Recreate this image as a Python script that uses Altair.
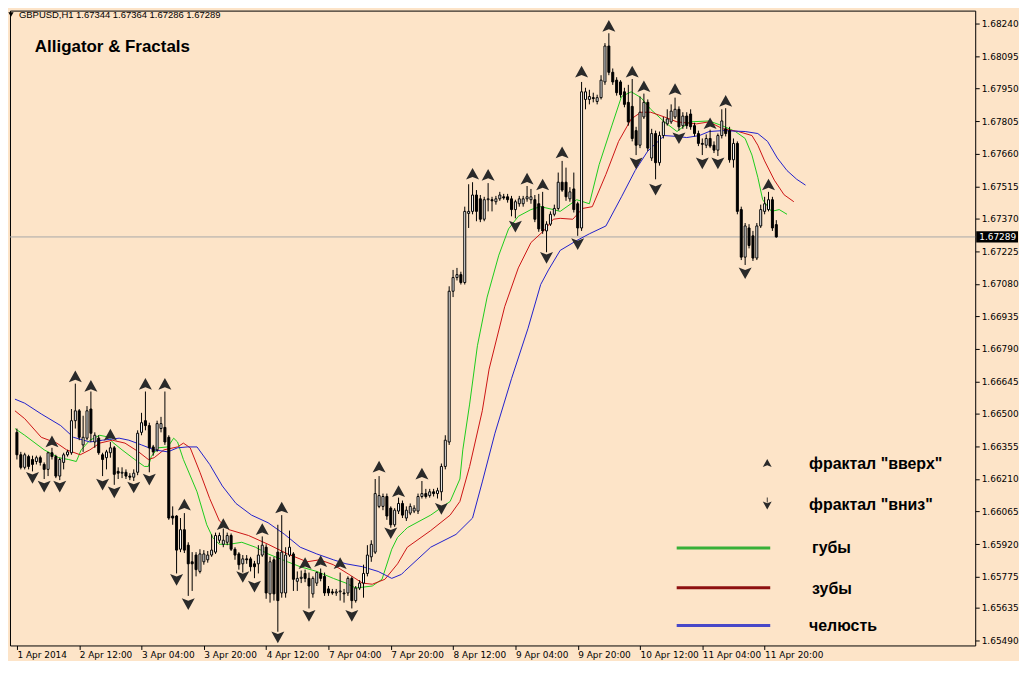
import json
import altair as alt
import pandas as pd

# ---------------- data (GBPUSD H1, bar 0 = 1 Apr 2014 20:00) ----------------
opens = [1.66418, 1.66318, 1.66262, 1.66310, 1.66297, 1.66288, 1.66305, 1.66275, 1.66253, 1.66327,
         1.66310, 1.66223, 1.66284, 1.66318, 1.66327, 1.66470, 1.66514, 1.66362, 1.66392, 1.66522,
         1.66375, 1.66392, 1.66318, 1.66305, 1.66327, 1.66349, 1.66244, 1.66236, 1.66240, 1.66223,
         1.66218, 1.66240, 1.66418, 1.66470, 1.66448, 1.66353, 1.66340, 1.66435, 1.66440, 1.66396,
         1.66045, 1.66045, 1.65897, 1.65984, 1.65915, 1.65841, 1.65871, 1.65798, 1.65841, 1.65850,
         1.65871, 1.65884, 1.65937, 1.65919, 1.65928, 1.65958, 1.65897, 1.65876, 1.65832, 1.65854,
         1.65854, 1.65832, 1.65832, 1.65871, 1.65906, 1.65698, 1.65850, 1.65884, 1.65702, 1.65702,
         1.65871, 1.65876, 1.65754, 1.65767, 1.65789, 1.65767, 1.65698, 1.65746, 1.65789, 1.65776,
         1.65720, 1.65707, 1.65702, 1.65707, 1.65702, 1.65702, 1.65767, 1.65668, 1.65724, 1.65746,
         1.65789, 1.65863, 1.65884, 1.66088, 1.66088, 1.66132, 1.66080, 1.66006, 1.66067, 1.66101,
         1.66036, 1.66058, 1.66067, 1.66067, 1.66132, 1.66145, 1.66136, 1.66153, 1.66145, 1.66153,
         1.66266, 1.66375, 1.67047, 1.67108, 1.67121, 1.67086, 1.67394, 1.67403, 1.67476, 1.67459,
         1.67368, 1.67455, 1.67455, 1.67446, 1.67459, 1.67468, 1.67468, 1.67459, 1.67411, 1.67437,
         1.67437, 1.67459, 1.67455, 1.67455, 1.67437, 1.67424, 1.67316, 1.67346, 1.67390, 1.67416,
         1.67533, 1.67533, 1.67459, 1.67503, 1.67437, 1.67329, 1.67902, 1.67902, 1.67910, 1.67893,
         1.67910, 1.67980, 1.68140, 1.68023, 1.67988, 1.67980, 1.67936, 1.67889, 1.67871, 1.67763,
         1.67698, 1.67824, 1.67889, 1.67641, 1.67750, 1.67620, 1.67741, 1.67793, 1.67802, 1.67824,
         1.67858, 1.67785, 1.67828, 1.67837, 1.67785, 1.67750, 1.67706, 1.67698, 1.67728, 1.67698,
         1.67676, 1.67741, 1.67771, 1.67763, 1.67633, 1.67706, 1.67411, 1.67199, 1.67329, 1.67294,
         1.67195, 1.67338, 1.67403, 1.67411, 1.67455, 1.67344]
highs = [1.66435, 1.66331, 1.66327, 1.66318, 1.66314, 1.66314, 1.66314, 1.66284, 1.66331, 1.66349,
         1.66318, 1.66305, 1.66327, 1.66340, 1.66522, 1.66635, 1.66522, 1.66492, 1.66535, 1.66600,
         1.66418, 1.66405, 1.66327, 1.66340, 1.66375, 1.66357, 1.66262, 1.66262, 1.66253, 1.66236,
         1.66253, 1.66427, 1.66505, 1.66600, 1.66461, 1.66362, 1.66470, 1.66487, 1.66600, 1.66405,
         1.66088, 1.66049, 1.66036, 1.66058, 1.65928, 1.65884, 1.65884, 1.65897, 1.65893, 1.65889,
         1.65963, 1.65971, 1.65971, 1.65989, 1.65971, 1.65967, 1.65906, 1.65884, 1.65871, 1.65871,
         1.65863, 1.65845, 1.65915, 1.65954, 1.65919, 1.65863, 1.65863, 1.66006, 1.66049, 1.65906,
         1.65980, 1.65884, 1.65798, 1.65802, 1.65806, 1.65793, 1.65776, 1.65798, 1.65811, 1.65793,
         1.65733, 1.65720, 1.65720, 1.65793, 1.65720, 1.65776, 1.65776, 1.65733, 1.65759, 1.65828,
         1.65915, 1.65937, 1.66210, 1.66223, 1.66145, 1.66145, 1.66088, 1.66080, 1.66127, 1.66114,
         1.66088, 1.66101, 1.66093, 1.66145, 1.66201, 1.66166, 1.66166, 1.66166, 1.66171, 1.66279,
         1.66405, 1.67069, 1.67142, 1.67151, 1.67134, 1.67424, 1.67524, 1.67533, 1.67498, 1.67476,
         1.67468, 1.67529, 1.67468, 1.67472, 1.67490, 1.67481, 1.67481, 1.67472, 1.67455, 1.67472,
         1.67472, 1.67516, 1.67503, 1.67476, 1.67481, 1.67490, 1.67359, 1.67403, 1.67433, 1.67576,
         1.67628, 1.67598, 1.67511, 1.67576, 1.67446, 1.67980, 1.67954, 1.67945, 1.67932, 1.67923,
         1.68010, 1.68153, 1.68197, 1.68040, 1.68001, 1.67988, 1.67954, 1.67967, 1.67993, 1.67780,
         1.67915, 1.67928, 1.67902, 1.67771, 1.67763, 1.67759, 1.67824, 1.67858, 1.67880, 1.67910,
         1.67871, 1.67845, 1.67845, 1.67858, 1.67798, 1.67763, 1.67728, 1.67746, 1.67767, 1.67715,
         1.67750, 1.67858, 1.67863, 1.67780, 1.67728, 1.67715, 1.67424, 1.67351, 1.67346, 1.67316,
         1.67351, 1.67433, 1.67468, 1.67490, 1.67468, 1.67364]
lows = [1.66297, 1.66253, 1.66253, 1.66253, 1.66244, 1.66275, 1.66270, 1.66210, 1.66223, 1.66297,
        1.66214, 1.66205, 1.66253, 1.66310, 1.66318, 1.66435, 1.66383, 1.66331, 1.66383, 1.66375,
        1.66349, 1.66318, 1.66223, 1.66253, 1.66305, 1.66184, 1.66210, 1.66214, 1.66210, 1.66205,
        1.66201, 1.66227, 1.66405, 1.66427, 1.66240, 1.66314, 1.66331, 1.66418, 1.66362, 1.66028,
        1.66006, 1.65789, 1.65884, 1.65880, 1.65689, 1.65711, 1.65776, 1.65789, 1.65828, 1.65837,
        1.65863, 1.65876, 1.65924, 1.65906, 1.65915, 1.65889, 1.65850, 1.65806, 1.65793, 1.65832,
        1.65798, 1.65768, 1.65789, 1.65863, 1.65676, 1.65659, 1.65668, 1.65529, 1.65681, 1.65681,
        1.65863, 1.65711, 1.65711, 1.65746, 1.65750, 1.65633, 1.65681, 1.65733, 1.65754, 1.65689,
        1.65689, 1.65694, 1.65689, 1.65668, 1.65659, 1.65689, 1.65633, 1.65659, 1.65715, 1.65681,
        1.65776, 1.65841, 1.65876, 1.66080, 1.66071, 1.66028, 1.65993, 1.65997, 1.66054, 1.66036,
        1.66023, 1.66049, 1.66058, 1.66054, 1.66123, 1.66123, 1.66127, 1.66132, 1.66123, 1.66114,
        1.66253, 1.66362, 1.67021, 1.67095, 1.67077, 1.67077, 1.67329, 1.67390, 1.67359, 1.67355,
        1.67359, 1.67403, 1.67403, 1.67433, 1.67450, 1.67455, 1.67442, 1.67381, 1.67372, 1.67424,
        1.67424, 1.67446, 1.67437, 1.67355, 1.67312, 1.67303, 1.67221, 1.67338, 1.67381, 1.67407,
        1.67490, 1.67450, 1.67446, 1.67398, 1.67294, 1.67316, 1.67858, 1.67880, 1.67889, 1.67880,
        1.67902, 1.67967, 1.68010, 1.67967, 1.67919, 1.67910, 1.67867, 1.67785, 1.67715, 1.67654,
        1.67685, 1.67815, 1.67672, 1.67628, 1.67546, 1.67607, 1.67728, 1.67785, 1.67793, 1.67815,
        1.67763, 1.67771, 1.67771, 1.67767, 1.67737, 1.67694, 1.67654, 1.67685, 1.67685, 1.67663,
        1.67650, 1.67728, 1.67737, 1.67620, 1.67598, 1.67390, 1.67186, 1.67164, 1.67238, 1.67182,
        1.67186, 1.67329, 1.67390, 1.67403, 1.67316, 1.67286]
closes = [1.66318, 1.66262, 1.66318, 1.66266, 1.66275, 1.66305, 1.66284, 1.66253, 1.66327, 1.66310,
          1.66223, 1.66297, 1.66318, 1.66331, 1.66470, 1.66514, 1.66396, 1.66396, 1.66514, 1.66414,
          1.66405, 1.66327, 1.66297, 1.66331, 1.66349, 1.66231, 1.66236, 1.66240, 1.66223, 1.66218,
          1.66236, 1.66414, 1.66461, 1.66448, 1.66349, 1.66331, 1.66457, 1.66457, 1.66375, 1.66036,
          1.66036, 1.65893, 1.65984, 1.65893, 1.65832, 1.65832, 1.65806, 1.65876, 1.65876, 1.65871,
          1.65893, 1.65958, 1.65958, 1.65937, 1.65958, 1.65897, 1.65871, 1.65828, 1.65854, 1.65850,
          1.65819, 1.65819, 1.65871, 1.65915, 1.65702, 1.65841, 1.65698, 1.65668, 1.65884, 1.65871,
          1.65906, 1.65763, 1.65767, 1.65772, 1.65767, 1.65733, 1.65767, 1.65793, 1.65767, 1.65702,
          1.65702, 1.65702, 1.65707, 1.65711, 1.65698, 1.65767, 1.65668, 1.65724, 1.65746, 1.65789,
          1.65871, 1.65919, 1.66145, 1.66136, 1.66132, 1.66045, 1.66006, 1.66071, 1.66101, 1.66049,
          1.66071, 1.66088, 1.66080, 1.66132, 1.66145, 1.66132, 1.66153, 1.66145, 1.66158, 1.66266,
          1.66383, 1.67047, 1.67108, 1.67121, 1.67086, 1.67403, 1.67403, 1.67476, 1.67403, 1.67368,
          1.67455, 1.67459, 1.67450, 1.67459, 1.67476, 1.67463, 1.67455, 1.67411, 1.67446, 1.67459,
          1.67459, 1.67468, 1.67468, 1.67368, 1.67325, 1.67316, 1.67346, 1.67390, 1.67416, 1.67533,
          1.67498, 1.67468, 1.67490, 1.67411, 1.67329, 1.67936, 1.67936, 1.67915, 1.67906, 1.67910,
          1.67988, 1.68140, 1.68023, 1.67980, 1.67932, 1.67923, 1.67880, 1.67802, 1.67728, 1.67698,
          1.67845, 1.67889, 1.67685, 1.67750, 1.67620, 1.67741, 1.67802, 1.67815, 1.67850, 1.67858,
          1.67780, 1.67828, 1.67785, 1.67780, 1.67750, 1.67706, 1.67702, 1.67728, 1.67694, 1.67676,
          1.67741, 1.67806, 1.67750, 1.67633, 1.67706, 1.67403, 1.67199, 1.67338, 1.67251, 1.67195,
          1.67338, 1.67411, 1.67437, 1.67455, 1.67329, 1.67289]

# fractals (bar index, arrow price)
up_bars = [9, 15, 19, 24, 33, 38, 43, 53, 63, 68, 74, 78, 83, 93, 98, 104, 117, 121, 131, 135,
           140, 145, 152, 158, 161, 169, 178, 182, 193]
up_prices = [1.66375, 1.66665, 1.66622, 1.66405, 1.66631, 1.66631, 1.66093, 1.66006, 1.65984, 1.66080,
             1.65832, 1.65841, 1.65832, 1.66262, 1.66153, 1.66231, 1.67568, 1.67563, 1.67546, 1.67520,
             1.67663, 1.68023, 1.68227, 1.68023, 1.67958, 1.67945, 1.67793, 1.67893, 1.67520]
down_bars = [4, 7, 11, 22, 25, 30, 34, 41, 44, 58, 61, 67, 75, 86, 96, 109, 128, 136, 144, 159,
             164, 170, 176, 180, 187]
down_prices = [1.66218, 1.66179, 1.66179, 1.66188, 1.66153, 1.66175, 1.66210, 1.65763, 1.65655, 1.65776,
               1.65733, 1.65507, 1.65603, 1.65603, 1.65971, 1.66080, 1.67338, 1.67199, 1.67260, 1.67620,
               1.67503, 1.67732, 1.67620, 1.67620, 1.67130]

# Alligator lines (bar position, price)
lips_pos = [-0.5, 2, 7, 10.75, 13.25, 15.25, 16.5, 18.75, 21.25, 23.75, 24.5, 27, 30.25, 32.75, 33.75,
            34.5, 36.25, 38.75, 40.25, 41.25, 42.75, 46.25, 48.75, 50.25, 52, 54.5, 57.75, 61.25, 64.5,
            69.5, 72.75, 77, 81.25, 84.5, 87, 91.25, 93.75, 96.25, 97.75, 99.5, 100.25, 106.25, 111.25,
            113.75, 114.5, 116.25, 118.25, 120.75, 123.75, 126.25, 128.75, 132, 134.5, 137.75, 139.5,
            143.75, 147, 149.5, 152.75, 155.25, 157.75, 160.25, 162.75, 166.25, 169.5, 172.75, 177.75,
            181.25, 184.5, 187, 188.75, 190.25, 191.5, 193.75, 195.75, 197.75]
lips_price = [1.66435, 1.66405, 1.66340, 1.66305, 1.66297, 1.66288, 1.66340, 1.66383, 1.66405, 1.66396,
              1.66375, 1.66340, 1.66297, 1.66266, 1.66266, 1.66310, 1.66349, 1.66353, 1.66392, 1.66375,
              1.66297, 1.66153, 1.66006, 1.65950, 1.65919, 1.65919, 1.65928, 1.65906, 1.65876, 1.65841,
              1.65819, 1.65798, 1.65767, 1.65746, 1.65724, 1.65733, 1.65763, 1.65897, 1.65950, 1.65980,
              1.65993, 1.66049, 1.66110, 1.66210, 1.66340, 1.66544, 1.66804, 1.67021, 1.67208, 1.67325,
              1.67381, 1.67411, 1.67424, 1.67411, 1.67403, 1.67455, 1.67437, 1.67611, 1.67784, 1.67915,
              1.67936, 1.67910, 1.67858, 1.67802, 1.67759, 1.67802, 1.67806, 1.67784, 1.67759, 1.67728,
              1.67654, 1.67555, 1.67455, 1.67403, 1.67411, 1.67390]
teeth_pos = [-0.5, 2, 6.25, 10.25, 12.75, 16.25, 18.75, 21.25, 24.5, 27.75, 31.25, 33.75, 35.25, 37.75,
             41.25, 42.75, 44.5, 47, 49.5, 52, 54.5, 59.5, 64.5, 69.5, 74.5, 77.75, 81.25, 85.25, 88.75,
             91.25, 94.5, 97.75, 99.5, 100.25, 106.25, 111.25, 113.75, 116.25, 119.5, 121.25, 125.25,
             128.75, 132, 135.25, 137.75, 139.5, 142.75, 145.25, 147.75, 151.25, 154.5, 157.75, 160.25,
             162.75, 166.25, 169.5, 174.5, 177.75, 181.25, 185.25, 188.75, 190.25, 192, 194.5, 197, 199.5]
teeth_price = [1.66514, 1.66479, 1.66396, 1.66370, 1.66340, 1.66318, 1.66340, 1.66370, 1.66383, 1.66370,
               1.66331, 1.66297, 1.66305, 1.66340, 1.66353, 1.66370, 1.66349, 1.66240, 1.66123, 1.66023,
               1.65984, 1.65958, 1.65919, 1.65876, 1.65841, 1.65850, 1.65828, 1.65785, 1.65746, 1.65741,
               1.65763, 1.65832, 1.65884, 1.65906, 1.65980, 1.66049, 1.66110, 1.66266, 1.66514, 1.66700,
               1.66978, 1.67151, 1.67264, 1.67316, 1.67368, 1.67372, 1.67368, 1.67416, 1.67424, 1.67568,
               1.67715, 1.67815, 1.67845, 1.67845, 1.67824, 1.67802, 1.67793, 1.67802, 1.67771, 1.67759,
               1.67741, 1.67698, 1.67628, 1.67542, 1.67477, 1.67446]
jaw_pos = [-0.5, 2, 6.25, 11.25, 14.5, 18.75, 22, 26.25, 28.75, 32, 35.25, 38.75, 41.25, 43.75, 46.25,
           49.5, 52.75, 56.25, 60.25, 64.5, 68.75, 72.75, 77, 81.25, 84.5, 88.75, 92.75, 96.25, 98.75,
           99.5, 106.25, 112.75, 117, 119.5, 122.75, 127, 131.25, 134.5, 136.5, 139.5, 143.75, 147,
           151.25, 155.25, 158.75, 162, 166.25, 169.5, 172, 175.25, 177.75, 181.25, 187, 190.25, 192.75,
           195.25, 197.75, 200.25, 202.5]
jaw_price = [1.66566, 1.66548, 1.66500, 1.66448, 1.66396, 1.66375, 1.66383, 1.66392, 1.66383, 1.66362,
             1.66340, 1.66331, 1.66349, 1.66353, 1.66353, 1.66275, 1.66179, 1.66101, 1.66049, 1.66015,
             1.65963, 1.65906, 1.65876, 1.65850, 1.65832, 1.65819, 1.65798, 1.65767, 1.65785, 1.65798,
             1.65906, 1.65963, 1.66036, 1.66197, 1.66414, 1.66657, 1.66882, 1.67077, 1.67142, 1.67229,
             1.67273, 1.67303, 1.67338, 1.67468, 1.67585, 1.67672, 1.67741, 1.67737, 1.67732, 1.67741,
             1.67759, 1.67763, 1.67759, 1.67750, 1.67715, 1.67641, 1.67585, 1.67546, 1.67520]

price_ticks = [1.68240, 1.68095, 1.67950, 1.67805, 1.67660, 1.67515, 1.67370, 1.67225, 1.67080, 1.66935,
               1.66790, 1.66645, 1.66500, 1.66355, 1.66210, 1.66065, 1.65920, 1.65775, 1.65635, 1.65490]
time_ticks = [0, 16, 32, 48, 64, 80, 96, 112, 128, 144, 160, 176, 192]
time_labels = ["1 Apr 2014", "2 Apr 12:00", "3 Apr 04:00", "3 Apr 20:00", "4 Apr 12:00", "7 Apr 04:00",
               "7 Apr 20:00", "8 Apr 12:00", "9 Apr 04:00", "9 Apr 20:00", "10 Apr 12:00",
               "11 Apr 04:00", "11 Apr 20:00"]
last_price = [1.67289]
header_text = ["GBPUSD,H1  1.67344 1.67364 1.67286 1.67289"]
title_text = ["Alligator & Fractals"]
legend_labels = ['фрактал "вверх"', 'фрактал "вниз"', "губы", "зубы", "челюсть"]
series_names = ["lips", "teeth", "jaw"]

# ---------------- styles ----------------
BG = "#FDE4C8"
GREEN, RED, BLUE = "#1ccc1c", "#cc1414", "#2020cc"
LEG_COLORS = ["#38b038", "#8e1010", "#4848c8"]
ARROW = "#2a2a2a"
UP_PATH = "M0,-1 L1,0.8 L0,0.42 L-1,0.8 Z"
DOWN_PATH = "M0,1 L1,-0.8 L0,-0.42 L-1,-0.8 Z"
DOWN_LEG_PATH = "M0,1 L1,-0.8 L0,-0.42 L-1,-0.8 Z M-0.1,-0.6 L0.1,-0.6 L0.1,-1.7 L-0.1,-1.7 Z"
BOX_PATH = "M-1,-0.27 L1,-0.27 L1,0.27 L-1,0.27 Z"
AX_FONT = "DejaVu Sans"
TXT_FONT = "Liberation Sans, Arial, sans-serif"
W, H = 970, 638

x_scale = alt.Scale(domain=[-0.5, 244.8], nice=False, zero=False)
y_scale = alt.Scale(domain=[1.65468, 1.68298], nice=False, zero=False)

label_expr = json.dumps(time_labels) + "[indexof(" + json.dumps(time_ticks) + ", datum.value)]"
x_axis = alt.Axis(values=time_ticks, labelExpr=label_expr, title=None, grid=False, domain=False,
                  tickSize=4, tickColor="black", labelAlign="left", labelBaseline="top",
                  labelPadding=1, labelFont=AX_FONT, labelFontSize=9, labelColor="black",
                  labelFlush=False, labelOverlap=False)
y_axis = alt.Axis(orient="right", values=price_ticks, format=".5f", title=None, grid=False,
                  domain=False, tickSize=4, tickColor="black", labelPadding=2, labelFont=AX_FONT,
                  labelFontSize=9, labelColor="black", labelFlush=False, labelOverlap=False)

candles = pd.DataFrame({"i": list(range(len(opens))), "open": opens, "high": highs,
                        "low": lows, "close": closes})
lines_df = pd.concat([
    pd.DataFrame({"pos": lips_pos, "price": lips_price, "series": series_names[0]}),
    pd.DataFrame({"pos": teeth_pos, "price": teeth_price, "series": series_names[1]}),
    pd.DataFrame({"pos": jaw_pos, "price": jaw_price, "series": series_names[2]}),
])
up_df = pd.DataFrame({"i": up_bars, "p": up_prices})
down_df = pd.DataFrame({"i": down_bars, "p": down_prices})
last_df = pd.DataFrame({"p": last_price, "t": [f"{v:.5f}" for v in last_price]})

X = lambda f: alt.X(f, scale=x_scale, axis=x_axis)
Y = lambda f: alt.Y(f, scale=y_scale, axis=y_axis)

price_line = alt.Chart(last_df).mark_rule(color="#a8a8a8", strokeWidth=1).encode(y=Y("p:Q"))

lines = alt.Chart(lines_df).mark_line(strokeWidth=1).encode(
    x=X("pos:Q"), y=Y("price:Q"),
    color=alt.Color("series:N", scale=alt.Scale(domain=series_names, range=[GREEN, RED, BLUE]),
                    legend=None))

wicks = alt.Chart(candles).mark_rule(color="black", strokeWidth=1).encode(
    x=X("i:Q"), y=Y("low:Q"), y2="high:Q")

bodies = alt.Chart(candles).mark_bar(size=2, stroke="black", strokeWidth=1).encode(
    x=X("i:Q"), y=Y("open:Q"), y2="close:Q",
    fill=alt.condition("datum.close >= datum.open", alt.value("white"), alt.value("black")))

ups = alt.Chart(up_df).mark_point(shape=UP_PATH, size=170, filled=True, color=ARROW,
                                  opacity=1).encode(x=X("i:Q"), y=Y("p:Q"))
downs = alt.Chart(down_df).mark_point(shape=DOWN_PATH, size=170, filled=True, color=ARROW,
                                      opacity=1).encode(x=X("i:Q"), y=Y("p:Q"))

price_box = alt.Chart(last_df).mark_point(shape=BOX_PATH, size=1764, filled=True, color="black",
                                          opacity=1).encode(x=alt.value(W + 22), y=Y("p:Q"))
price_txt = alt.Chart(last_df).mark_text(align="left", baseline="middle", font=AX_FONT, fontSize=9,
                                         color="white").encode(x=alt.value(W + 4), y=Y("p:Q"),
                                                               text="t:N")


def txt(label, x, y, size, weight="bold", font=TXT_FONT):
    return alt.Chart(pd.DataFrame({"t": [label]})).mark_text(
        align="left", baseline="middle", font=font, fontSize=size, fontWeight=weight,
        color="black").encode(x=alt.value(x), y=alt.value(y), text="t:N")


one = pd.DataFrame({"k": [0]})
header_tri = alt.Chart(one).mark_point(shape="triangle-down", size=28, filled=True, color="black",
                                       opacity=1).encode(x=alt.value(1), y=alt.value(4))
header = txt(header_text[0], 9, 4, 9.5, "normal", "Liberation Sans")
title = txt(title_text[0], 25, 37, 17)

leg_up = alt.Chart(one).mark_point(shape=UP_PATH, size=80, filled=True, color=ARROW,
                                   opacity=1).encode(x=alt.value(761), y=alt.value(455))
leg_down = alt.Chart(one).mark_point(shape=DOWN_LEG_PATH, size=80, filled=True, color=ARROW,
                                     opacity=1).encode(x=alt.value(761), y=alt.value(497))
leg_lines = [alt.Chart(one).mark_rule(color=c, strokeWidth=3).encode(
    x=alt.value(670), x2=alt.value(764), y=alt.value(yy)) for c, yy in zip(LEG_COLORS, [540, 580, 618])]
leg_texts = [txt(legend_labels[0], 803, 456, 16), txt(legend_labels[1], 803, 497, 16),
             txt(legend_labels[2], 806, 540, 16), txt(legend_labels[3], 806, 581, 16),
             txt(legend_labels[4], 803, 618, 16)]

chart = alt.layer(price_line, lines, wicks, bodies, ups, downs, price_box, price_txt,
                  header_tri, header, title, leg_up, leg_down, *leg_lines, *leg_texts).properties(
    width=W, height=H, padding={"left": 0, "top": 0, "right": 0, "bottom": 0}
).configure(background=BG).configure_view(stroke="black", strokeWidth=1, fill=BG)

chart.save("out.html", embed_options={"renderer": "svg", "actions": False})
